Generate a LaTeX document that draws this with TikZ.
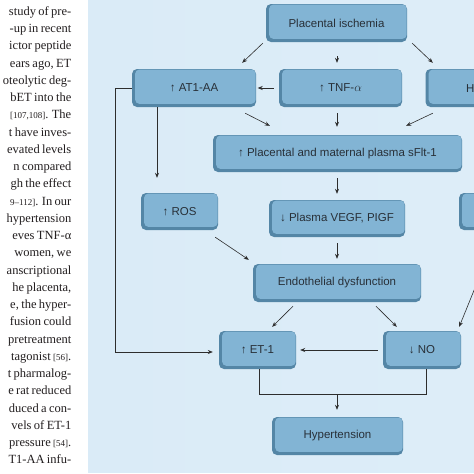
\documentclass[tikz,border=0pt]{standalone}
\usepackage{fontspec}
\setmainfont{Liberation Serif}
\newfontfamily\boxfont{Liberation Sans}
\usetikzlibrary{arrows.meta}
\newcommand\bodyfnt{\fontsize{12.5}{14}\selectfont\spaceskip=0.19em plus 0.05em\relax}
\newcommand\citefnt{\fontsize{9}{10}\selectfont}
\definecolor{face}{RGB}{130,180,212}
\definecolor{edge}{RGB}{84,134,166}
\definecolor{txt}{RGB}{40,48,56}
\definecolor{arr}{RGB}{45,45,45}
\definecolor{bodytxt}{RGB}{35,31,32}
\definecolor{panelL}{RGB}{218,235,247}
\definecolor{panelM}{RGB}{236,244,250}
\definecolor{panelR}{RGB}{221,237,248}
\begin{document}
\begin{tikzpicture}[x=1pt,y=-1pt,
  box/.style={rounded corners=5pt, fill=edge, inner sep=0pt,
    font=\boxfont\fontsize{11.5}{13}\selectfont, text=txt,
    path picture={\fill[face, rounded corners=4pt]
      ([xshift=3.2pt,yshift=3.2pt]path picture bounding box.south west) rectangle
      ([xshift=-0.4pt,yshift=-0.6pt]path picture bounding box.north east);}},
  conn/.style={draw=arr, line width=0.6pt},
  arrow/.style={conn, -{Stealth[length=5pt,width=4pt]}},
  body/.style={font=\bodyfnt, text=bodytxt, anchor=base east, inner sep=0pt}]
\useasboundingbox (0,0) rectangle (474,474);
\fill[white] (0,0) rectangle (474,474);
% panel
\fill[left color=panelL, middle color=panelM, right color=panelR] (88,0) rectangle (474,472);

% left column text
\node[body] (t1) at (71.5,15.3) {study of pre-};
\node[body] (t2) at (71.5,32.5) {-up in recent};
\node[body] (t3) at (71.5,49.8) {ictor peptide};
\node[body] (t4) at (71.5,67.0) {ears ago, ET};
\node[body] (t5) at (71.5,84.3) {oteolytic deg-};
\node[body] (t6) at (71.5,101.5) {bET into the};
\node[body] (t7) at (71.5,118.8) {{\citefnt[107,108]}. The};
\node[body] (t8) at (71.5,136.0) {t have inves-};
\node[body] (t9) at (71.5,153.3) {evated levels};
\node[body] (t10) at (71.5,170.5) {n compared};
\node[body] (t11) at (71.5,187.8) {gh the effect};
\node[body] (t12) at (71.5,205.0) {{\citefnt 9–112]}. In our};
\node[body] (t13) at (71.5,222.3) {hypertension};
\node[body] (t14) at (71.5,239.5) {eves TNF-α};
\node[body] (t15) at (71.5,256.8) {women, we};
\node[body] (t16) at (71.5,274.0) {anscriptional};
\node[body] (t17) at (71.5,291.3) {he placenta,};
\node[body] (t18) at (71.5,308.5) {e, the hyper-};
\node[body] (t19) at (71.5,325.8) {fusion could};
\node[body] (t20) at (71.5,343.0) {pretreatment};
\node[body] (t21) at (71.5,360.3) {tagonist {\citefnt[56]}.};
\node[body] (t22) at (71.5,377.5) {t pharmalog-};
\node[body] (t23) at (71.5,394.8) {e rat reduced};
\node[body] (t24) at (71.5,412.0) {duced a con-};
\node[body] (t25) at (71.5,429.3) {vels of ET-1};
\node[body] (t26) at (71.5,446.5) {pressure {\citefnt[54]}.};
\node[body] (t27) at (71.5,463.8) {T1-AA infu-};

% boxes
\node[box, minimum width=141pt, minimum height=38pt] (isch) at (336.5,23) {Placental ischemia};
\node[box, minimum width=124pt, minimum height=38pt] (at1) at (194,88) {↑ AT1-AA};
\node[box, minimum width=123pt, minimum height=38pt] (tnf) at (340.5,88) {↑ TNF-$\alpha$};
\node[box, minimum width=124.5pt, minimum height=38pt] (hbox) at (487.75,88) {};
\node[anchor=base west, inner sep=0pt, font=\boxfont\fontsize{11.5}{13}\selectfont, text=txt] (htext) at (466,92) {H};
\node[box, minimum width=249pt, minimum height=37pt] (sflt) at (337.5,153.5) {↑ Placental and maternal plasma sFlt-1};
\node[box, minimum width=77pt, minimum height=37pt] (ros) at (179.5,211.5) {↑ ROS};
\node[box, minimum width=136pt, minimum height=37pt] (vegf) at (337,218.5) {↓ Plasma VEGF, PIGF};
\node[box, minimum width=121pt, minimum height=37pt] (rbox) at (519.5,211.5) {};
\node[box, minimum width=168pt, minimum height=38pt] (endo) at (337,283) {Endothelial dysfunction};
\node[box, minimum width=77pt, minimum height=38pt] (et1) at (257.5,350) {↑ ET-1};
\node[box, minimum width=78pt, minimum height=38pt] (no) at (422,350) {↓ NO};
\node[box, minimum width=131pt, minimum height=38pt] (hyp) at (337.5,436) {Hypertension};

% connectors
\draw[arrow] ([shift={(-3,1)}]isch.south west) -- ([shift={(-14,-6)}]at1.north east);
\draw[arrow] ([shift={(0.5,14)}]isch.south) -- ([shift={(-3.5,-6)}]tnf.north);
\draw[arrow] ([shift={(5,1)}]isch.south east) -- ([shift={(7.5,-6)}]hbox.north west);
\draw[arrow] ([shift={(-5,0)}]tnf.west) -- ([shift={(1.5,0)}]at1.east);
\draw[arrow] ([shift={(-11,6)}]at1.south east) -- ([shift={(57,-9)}]sflt.north west);
\draw[arrow] ([shift={(-3.5,6)}]tnf.south) -- ([shift={(-0.5,-8)}]sflt.north);
\draw[arrow] ([shift={(7.5,6)}]hbox.south west) -- ([shift={(-56,-9)}]sflt.north east);
\draw[arrow] ([shift={(-0.5,6)}]sflt.south) -- ([shift={(0,-6)}]vegf.north);
\draw[arrow] ([shift={(-3,7)}]ros.south east) -- ([shift={(-4,-4)}]endo.north west);
\draw[arrow] ([shift={(0,6)}]vegf.south) -- ([shift={(0,-5)}]endo.north);
\draw[arrow] ([shift={(-44,4)}]endo.south) -- ([shift={(-24,-4)}]et1.north east);
\draw[arrow] ([shift={(39,4)}]endo.south) -- ([shift={(14,-4)}]no.north west);
\draw[arrow] ([shift={(-23.5,6)}]rbox.south) -- ([shift={(-2,-4)}]no.north east);
\draw[arrow] ([shift={(-5,0)}]no.west) -- ([shift={(4,0)}]et1.east);
\draw[arrow] (at1.west) -- ++(-17,0) |- ([shift={(-6,2)}]et1.west);
\draw[arrow] ([shift={(-37,0)}]at1.south) -- ([shift={(-22.5,-15)}]ros.north);
\draw[conn] ([shift={(1.5,0)}]et1.south) -- ++(0,25) -| ([shift={(4,0)}]no.south);
\coordinate (jn) at (337,394);
\draw[arrow] (jn) -- ([shift={(-0.5,-7)}]hyp.north);
\end{tikzpicture}
\end{document}
